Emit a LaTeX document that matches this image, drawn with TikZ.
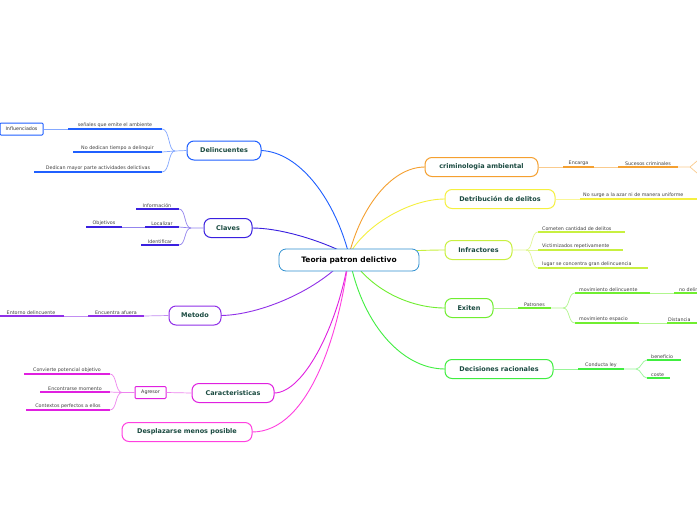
\documentclass[tikz,border=0pt]{standalone}
\usepackage{fontspec}
\setmainfont{DejaVu Sans}
\begin{document}
\begin{tikzpicture}[x=1pt,y=-1pt,
 main/.style={draw=#1,line width=1pt,rounded corners=7pt,minimum height=19pt,inner sep=0pt,font=\fontsize{6.5}{7}\selectfont\bfseries,text=textc,fill=white},
 leaf/.style={inner sep=1pt,font=\fontsize{4.8}{5}\selectfont,text=black!75,anchor=south},
 ul/.style={draw=#1,line width=1.3pt},
 br/.style={draw=#1,line width=0.9pt},
 thin/.style={draw=#1!55,line width=0.7pt},
 sbox/.style={draw=#1,line width=1pt,rounded corners=1pt,inner sep=2pt,minimum height=12pt,font=\fontsize{4.8}{5}\selectfont,text=black!80,fill=white}]
\definecolor{textc}{HTML}{1A4A40}
\definecolor{cdel}{HTML}{2060FF}
\definecolor{ccla}{HTML}{3A20E0}
\definecolor{cmet}{HTML}{9030E8}
\definecolor{ccar}{HTML}{E020E0}
\definecolor{cdes}{HTML}{FF40E0}
\definecolor{ccri}{HTML}{F5A030}
\definecolor{cdet}{HTML}{F5F040}
\definecolor{cinf}{HTML}{C8F040}
\definecolor{cexi}{HTML}{70EE30}
\definecolor{cdec}{HTML}{40EE40}
\definecolor{ccen}{HTML}{3090D0}
\useasboundingbox (0,0) rectangle (697,520);
\fill[white] (0,0) rectangle (697,520);
\coordinate (o) at (349,255);
% main curves
\draw[br=cdel] (o) .. controls (335,200) and (300,152) .. (261,150.5) coordinate (de);
\draw[br=ccla] (o) .. controls (320,240) and (280,228) .. (252,228) coordinate (ce);
\draw[br=cmet] (o) .. controls (320,290) and (260,315) .. (221,315.5) coordinate (me);
\draw[br=ccar] (o) .. controls (340,320) and (305,393) .. (274,393) coordinate (ca);
\draw[br=cdes] (o) .. controls (340,330) and (310,432) .. (252,432) coordinate (ds);
\draw[br=ccri] (o) .. controls (360,210) and (390,167) .. (425,167);
\draw[br=cdet] (o) .. controls (365,225) and (410,199) .. (445,199);
\draw[br=cinf] (o) .. controls (380,252) and (420,250) .. (445,250);
\draw[br=cexi] (o) .. controls (370,290) and (410,308) .. (445,308);
\draw[br=cdec] (o) .. controls (360,320) and (400,369) .. (445,369);
% center
\node[draw=ccen,line width=0.8pt,rounded corners=7pt,minimum width=140pt,minimum height=22pt,font=\fontsize{7.5}{8}\selectfont\bfseries,fill=white] (c) at (349,260) {Teoria patron delictivo};
% main nodes
\node[main=cdel,minimum width=74pt] (del) at (224,150.5) {Delincuentes};
\node[main=ccla,minimum width=48pt] (cla) at (228,228) {Claves};
\node[main=cmet,minimum width=52pt] (met) at (195,315.5) {Metodo};
\node[main=ccar,minimum width=82pt] (car) at (233,393) {Caracteristicas};
\node[main=cdes,minimum width=130pt] (des) at (187,432) {Desplazarse menos posible};
\node[main=ccri,minimum width=113pt] (cri) at (481.5,167) {criminologia ambiental};
\node[main=cdet,minimum width=110pt] (det) at (500,199) {Detribución de delitos};
\node[main=cinf,minimum width=67pt] (inf) at (478.5,250) {Infractores};
\node[main=cexi,minimum width=48pt] (exi) at (469,308) {Exiten};
\node[main=cdec,minimum width=108pt] (dec) at (499,369) {Decisiones racionales};
% Delincuentes leaves
\node[leaf] (d1) at (115,129) {señales que emite el ambiente};
\node[leaf] (d2) at (117.5,152) {No dedican tiempo a delinquir};
\node[leaf] (d3) at (98,172) {Dedican mayor parte actividades delictivas};
\draw[ul=cdel] (68,129)--(162,129); \draw[ul=cdel] (73,152)--(162,152); \draw[ul=cdel] (34,172)--(162,172);
\draw[thin=cdel] (del.west) -- (175,151) .. controls (168,151) and (170,129) .. (162,129);
\draw[thin=cdel] (175,151) -- (162,152);
\draw[thin=cdel] (175,151) .. controls (168,151) and (170,172) .. (162,172);
\node[sbox=cdel,minimum width=43pt] (inf1) at (21.5,129) {Influenciados};
\draw[thin=cdel] (inf1.east) -- (68,129);
% Claves
\node[leaf] at (157,209) {Información};
\node[leaf] at (162,227) {Localizar};
\node[leaf] at (160,245) {Identificar};
\node[leaf] at (104,227) {Objetivos};
\draw[ul=ccla] (136,209)--(179,209); \draw[ul=ccla] (145,227)--(179,227); \draw[ul=ccla] (141,245)--(179,245); \draw[ul=ccla] (86,227)--(122,227);
\draw[thin=ccla] (cla.west) -- (191,228) .. controls (184,228) and (186,209) .. (179,209);
\draw[thin=ccla] (191,228) -- (179,227);
\draw[thin=ccla] (191,228) .. controls (184,228) and (186,245) .. (179,245);
\draw[thin=ccla] (122,227)--(145,227);
% Metodo
\node[leaf] at (116,316) {Encuentra afuera};
\node[leaf] at (31,316) {Entorno delincuente};
\draw[ul=cmet] (88,316)--(144,316); \draw[ul=cmet] (0,316)--(64,316);
\draw[thin=cmet] (met.west)--(144,316); \draw[thin=cmet] (64,316)--(88,316);
% Caracteristicas
\node[sbox=ccar,minimum width=31pt] (agr) at (150.5,392.5) {Agresor};
\draw[thin=ccar] (car.west)--(agr.east);
\node[leaf] at (67,374) {Convierte potencial objetivo};
\node[leaf] at (75,392) {Encontrarse momento};
\node[leaf] at (68,410) {Contextos perfectos a ellos};
\draw[ul=ccar] (24,374)--(110,374); \draw[ul=ccar] (40,392)--(110,392); \draw[ul=ccar] (26,410)--(110,410);
\draw[thin=ccar] (agr.west) -- (122,392.5) .. controls (115,392) and (117,374) .. (110,374);
\draw[thin=ccar] (122,392.5)--(110,392);
\draw[thin=ccar] (122,392.5) .. controls (115,393) and (117,410) .. (110,410);
% criminologia
\node[leaf] at (578.5,167) {Encarga};
\node[leaf] at (648,167) {Sucesos criminales};
\draw[ul=ccri] (563,167)--(594,167); \draw[ul=ccri] (618,167)--(678,167);
\draw[thin=ccri] (cri.east)--(563,167); \draw[thin=ccri] (594,167)--(618,167);
\draw[thin=ccri] (678,167)--(690,167) -- (697,161); \draw[thin=ccri] (690,167)--(697,173);
% Detribucion
\node[leaf,anchor=south west] at (582,199) {No surge a la azar ni de manera uniforme};
\draw[ul=cdet] (580,199)--(697,199);
\draw[thin=cdet] (det.east)--(580,199);
% Infractores
\node[leaf,anchor=south west] at (541,232) {Cometen cantidad de delitos};
\node[leaf,anchor=south west] at (541,250) {Victimizados repetivamente};
\node[leaf,anchor=south west] at (541,268) {lugar se concentra gran delincuencia};
\draw[ul=cinf] (538,232)--(625,232); \draw[ul=cinf] (538,250)--(623,250); \draw[ul=cinf] (538,268)--(648,268);
\draw[thin=cinf] (inf.east) -- (526,250) .. controls (533,250) and (531,232) .. (538,232);
\draw[thin=cinf] (526,250)--(538,250);
\draw[thin=cinf] (526,250) .. controls (533,250) and (531,268) .. (538,268);
% Exiten
\node[leaf] at (534.5,308) {Patrones};
\draw[ul=cexi] (518,308)--(551,308);
\draw[thin=cexi] (exi.east)--(518,308);
\node[leaf,anchor=south west] at (578,293) {movimiento delincuente};
\node[leaf,anchor=south west] at (678,293) {no delincuente};
\node[leaf,anchor=south west] at (578,323) {movimiento espacio};
\node[leaf,anchor=south west] at (667,323) {Distancia};
\draw[ul=cexi] (575,293)--(650,293); \draw[ul=cexi] (674,293)--(697,293);
\draw[ul=cexi] (575,323)--(639,323); \draw[ul=cexi] (667,323)--(697,323);
\draw[thin=cexi] (551,308)--(563,308) .. controls (570,308) and (568,293) .. (575,293);
\draw[thin=cexi] (563,308) .. controls (570,308) and (568,323) .. (575,323);
\draw[thin=cexi] (650,293)--(674,293); \draw[thin=cexi] (639,323)--(667,323);
% Decisiones
\node[leaf] at (601,369) {Conducta ley};
\draw[ul=cdec] (578,369)--(624,369);
\draw[thin=cdec] (dec.east)--(578,369);
\node[leaf,anchor=south west] at (650,360) {beneficio};
\node[leaf,anchor=south west] at (650,378) {coste};
\draw[ul=cdec] (647,360)--(681,360); \draw[ul=cdec] (647,378)--(670,378);
\draw[thin=cdec] (624,369)--(636,369) .. controls (641,369) and (642,360) .. (647,360);
\draw[thin=cdec] (636,369) .. controls (641,369) and (642,378) .. (647,378);
\end{tikzpicture}
\end{document}
